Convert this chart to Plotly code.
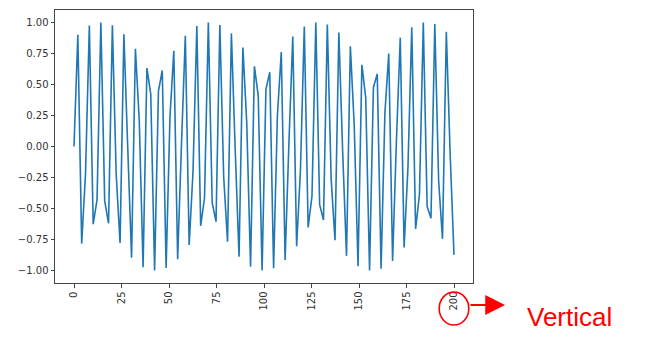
import plotly.graph_objects as go

x_vals = [0.00, 2.02, 4.04, 6.06, 8.08, 10.10, 12.12, 14.14, 16.16, 18.18,
          20.20, 22.22, 24.24, 26.26, 28.28, 30.30, 32.32, 34.34, 36.36, 38.38,
          40.40, 42.42, 44.44, 46.46, 48.48, 50.51, 52.53, 54.55, 56.57, 58.59,
          60.61, 62.63, 64.65, 66.67, 68.69, 70.71, 72.73, 74.75, 76.77, 78.79,
          80.81, 82.83, 84.85, 86.87, 88.89, 90.91, 92.93, 94.95, 96.97, 98.99,
          101.01, 103.03, 105.05, 107.07, 109.09, 111.11, 113.13, 115.15, 117.17, 119.19,
          121.21, 123.23, 125.25, 127.27, 129.29, 131.31, 133.33, 135.35, 137.37, 139.39,
          141.41, 143.43, 145.45, 147.47, 149.49, 151.52, 153.54, 155.56, 157.58, 159.60,
          161.62, 163.64, 165.66, 167.68, 169.70, 171.72, 173.74, 175.76, 177.78, 179.80,
          181.82, 183.84, 185.86, 187.88, 189.90, 191.92, 193.94, 195.96, 197.98, 200.00]

y_vals = [0.0000, 0.9010, -0.7826, -0.2208, 0.9743, -0.6256, -0.4306, 1.0000, -0.4382, -0.6192,
          0.9762, -0.2290, -0.7771, 0.9044, -0.0085, -0.8971, 0.7879, 0.2125, -0.9725, 0.6324,
          0.4230, -0.9999, 0.4459, 0.6124, -0.9780, 0.2373, 0.7718, -0.9080, 0.0170, 0.8932,
          -0.7931, -0.2042, 0.9703, -0.6389, -0.4153, 0.9998, -0.4535, -0.6058, 0.9798, -0.2456,
          -0.7665, 0.9115, -0.0255, -0.8891, 0.7984, 0.1958, -0.9682, 0.6457, 0.4075, -0.9996,
          0.4610, 0.5990, -0.9815, 0.2537, 0.7609, -0.9151, 0.0340, 0.8855, -0.8034, -0.1875,
          0.9661, -0.6520, -0.3997, 0.9993, -0.4685, -0.5922, 0.9831, -0.2619, -0.7555, 0.9183,
          -0.0424, -0.8813, 0.8082, 0.1792, -0.9640, 0.6585, 0.3918, -0.9989, 0.4762, 0.5852,
          -0.9846, 0.2702, 0.7497, -0.9218, 0.0510, 0.8772, -0.8135, -0.1708, 0.9617, -0.6648,
          -0.3841, 0.9985, -0.4835, -0.5783, 0.9861, -0.2783, -0.7443, 0.9249, -0.0595, -0.8733]

x_ticks = [0, 25, 50, 75, 100, 125, 150, 175, 200]
x_tick_labels = ["0", "25", "50", "75", "100", "125", "150", "175", "200"]
y_ticks = [-1.0, -0.75, -0.5, -0.25, 0.0, 0.25, 0.5, 0.75, 1.0]
y_tick_labels = ["\u22121.00", "\u22120.75", "\u22120.50", "\u22120.25", "0.00",
                 "0.25", "0.50", "0.75", "1.00"]

annotation_text = "Vertical"

fig = go.Figure()
fig.add_trace(go.Scatter(x=x_vals, y=y_vals, mode="lines",
                         line=dict(color="#1f77b4", width=1.6),
                         showlegend=False, hoverinfo="skip"))

axis_common = dict(showgrid=False, zeroline=False, showline=True, mirror=True,
                   linecolor="#444444", linewidth=1, ticks="outside", ticklen=3.5,
                   tickwidth=1, tickcolor="#444444",
                   tickfont=dict(family="DejaVu Sans", size=10, color="#333333"))

fig.update_layout(
    width=670, height=337,
    margin=dict(l=55, r=197, t=10, b=54),
    paper_bgcolor="white", plot_bgcolor="white",
    xaxis=dict(range=[-10, 210], tickvals=x_ticks, ticktext=x_tick_labels,
               tickangle=-90, **axis_common),
    yaxis=dict(range=[-1.1, 1.1], tickvals=y_ticks, ticktext=y_tick_labels,
               **axis_common),
)

# red circle around the "200" tick label
fig.add_shape(type="circle", xref="x", yref="paper",
              x0=192.2, x1=207.8, y0=-0.154, y1=-0.033,
              line=dict(color="red", width=1.6))

# red arrow
fig.add_annotation(xref="paper", yref="paper", x=1.0766, y=-0.0806,
                   axref="pixel", ayref="pixel", ax=-36, ay=0,
                   text="", showarrow=True, arrowhead=2, arrowsize=2.2,
                   arrowwidth=1.8, arrowcolor="red")

fig.add_annotation(xref="paper", yref="paper", x=1.2297, y=-0.1245,
                   text=annotation_text, showarrow=False,
                   font=dict(family="Liberation Sans", size=26, color="red"),
                   xanchor="center", yanchor="middle")

fig.write_html("out.html")
